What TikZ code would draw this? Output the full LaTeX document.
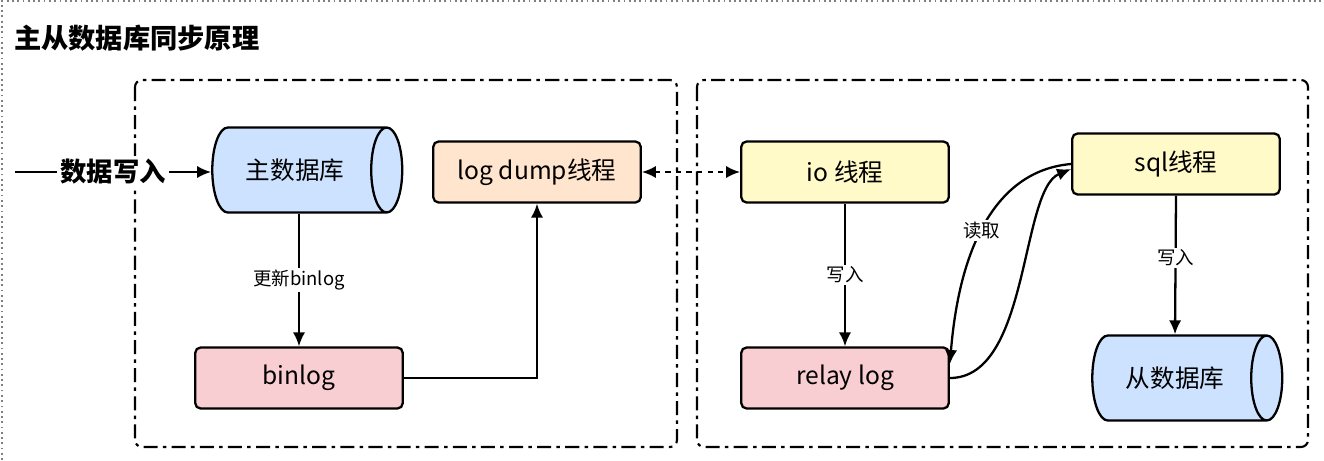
\documentclass[tikz,border=0pt]{standalone}
\usepackage{fontspec}
\setmainfont{Noto Sans CJK SC}
\usetikzlibrary{shapes.geometric,arrows.meta}
\definecolor{dbblue}{RGB}{204,226,255}
\definecolor{logpink}{RGB}{248,206,210}
\definecolor{thyellow}{RGB}{255,250,200}
\definecolor{dumporange}{RGB}{255,228,206}
\tikzset{box/.style={rectangle,rounded corners=3pt,draw,line width=1.3pt,minimum width=4.15cm,minimum height=1.22cm,font=\fontsize{14}{16}\selectfont}}
\tikzset{db/.style={cylinder,draw,line width=1.3pt,shape aspect=0.9,minimum width=1.7cm,minimum height=3.8cm,cylinder uses custom fill,cylinder body fill=dbblue,cylinder end fill=dbblue,font=\fontsize{14}{16}\selectfont}}
\tikzset{grp/.style={draw,line width=1.2pt,rounded corners=4pt,dash pattern=on 8pt off 3pt on 2pt off 3pt}}
\tikzset{t/.style={fill=white,inner sep=1pt,font=\fontsize{10.5}{12}\selectfont}}
\tikzset{arr/.style={-{Latex[length=8pt,width=7pt]},line width=1.3pt}}
\begin{document}
\begin{tikzpicture}[x=0.02cm,y=-0.02cm]
      \useasboundingbox (0,0) rectangle (1324,460);
      \draw[gray,dotted,line width=1pt] (2,460) -- (2,1) -- (1324,1);
      \node[anchor=west,font=\fontsize{15.5}{18}\selectfont\bfseries] (title) at (8,38) {主从数据库同步原理};
      \draw[grp] (135,80) rectangle (677,447);
      \draw[grp] (697,80) rectangle (1308,447);
      \node[db] (M) at (295,170) {主数据库};
      \node[box,fill=dumporange] (D) at (537,172) {log dump线程};
      \node[box,fill=logpink] (B) at (299,378) {binlog};
      \node[box,fill=thyellow] (IO) at (845,172) {io 线程};
      \node[box,fill=logpink] (R) at (845,378) {relay log};
      \node[box,fill=thyellow] (SQL) at (1176,164) {sql线程};
      \node[db] (S) at (1175,378) {从数据库};
      \coordinate (in) at (15,172);
      \draw[arr] (in) -- node[fill=white,inner sep=2pt,font=\fontsize{15}{17}\selectfont\bfseries] {数据写入} (M.west|-in);
      \draw[arr] (M.south-|B) -- node[t] {更新binlog} (B.north);
      \draw[arr] (B.east) -| (D.south);
      \draw[arr,{Latex[length=8pt,width=7pt]}-{Latex[length=8pt,width=7pt]},dashed] (D.east) -- (IO.west);
      \draw[arr] (IO.south) -- node[t] {写入} (R.north);
      \draw[arr] (SQL.south) -- node[t,pos=0.45] {写入} (S.north|-S.north);
      \draw[arr] (SQL.west) .. controls (1000,170) and (960,240) .. node[t,pos=0.55] {读取} ([yshift=0.28cm]R.east);
      \draw[arr] (R.east) .. controls (1030,378) and (1020,190) .. ([yshift=-0.1cm]SQL.west);
    \end{tikzpicture}
\end{document}
